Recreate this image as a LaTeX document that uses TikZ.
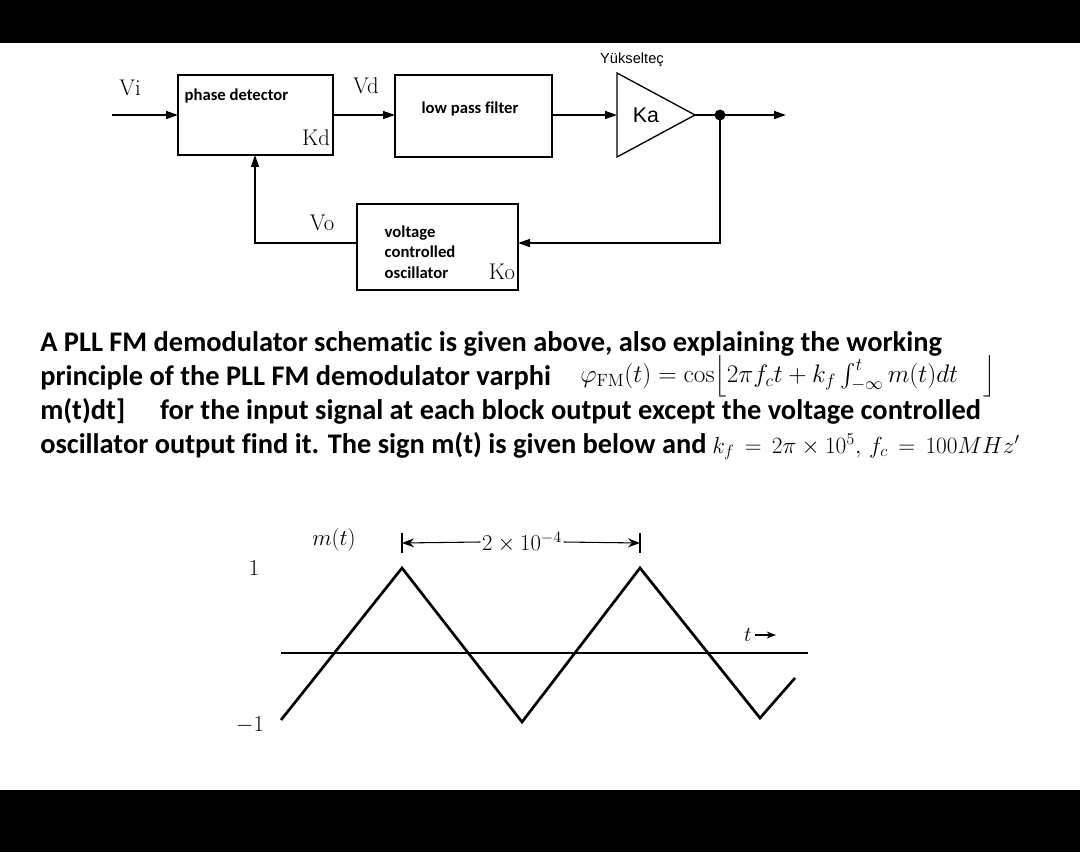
\documentclass[tikz,border=0pt]{standalone}
\usepackage{fix-cm}
\usepackage{fontspec}
\usepackage{amsmath}
\newfontfamily\calfnt[Ligatures=NoCommon]{Carlito}
\newfontfamily\arl{Liberation Sans}
\usetikzlibrary{arrows.meta}
\begin{document}
\begin{tikzpicture}[x=0.75pt,y=-0.75pt,
  blk/.style={draw,line width=1pt},
  arr/.style={line width=1pt,-{Triangle[length=9pt,width=6pt]}},
  ln/.style={line width=1pt},
  lbl/.style={font=\calfnt\bfseries\fontsize{12.5}{14.5}\selectfont},
  ser/.style={font=\fontsize{17}{19}\selectfont},
  para/.style={font=\calfnt\bfseries\fontsize{21.3}{25}\selectfont,anchor=west,inner sep=0}]
\useasboundingbox (0,0) rectangle (1080,852);
\fill[black] (0,0) rectangle (1080,43);
\fill[black] (0,790) rectangle (1080,852);
% blocks
\draw[blk] (178,75) rectangle (333,155);
\node[lbl,anchor=west] (pd) at (180,96) {phase detector};
\node[ser] (kd) at (316,138) {Kd};
\draw[blk] (395,75) rectangle (552,157);
\node[lbl] (lpf) at (470,109) {low pass filter};
\draw[blk] (617,73) -- (617,157) -- (695,115) -- cycle;
\node[font=\arl\fontsize{16}{18}\selectfont] (ka) at (646,115) {Ka};
\node[font=\arl\fontsize{11}{13}\selectfont] (yk) at (632,60) {Yükselteç};
\draw[blk] (357,204) rectangle (518,290);
\node[lbl,anchor=west,align=left] (vco) at (380,252) {voltage\\[1pt]controlled\\[1pt]oscillator};
\node[ser] (ko) at (502,272) {Ko};
\node[ser] (vi) at (130,88) {Vi};
\node[ser] (vd) at (366,86) {Vd};
\node[ser] (vo) at (322,223) {Vo};
% connectors
\coordinate (in) at (112,115);
\coordinate (out) at (786,115);
\coordinate (jn) at (720,115);
\draw[arr] (in) -- (178,115);
\draw[arr] (333,115) -- (395,115);
\draw[arr] (552,115) -- (617,115);
\draw[ln] (695,115) -- (jn);
\draw[arr] (jn) -- (out);
\fill (jn) circle (5.5);
\draw[arr] (jn) -- (720,243) -- (518,243);
\draw[arr] (357,243) -- (255,243) -- (255,155);
% paragraph
\node[para] (p1) at (40,344) {A PLL FM demodulator schematic is given above, also explaining the working};
\node[para] (p2) at (40,378) {principle of the PLL FM demodulator varphi};
\node[anchor=west,inner sep=0,font=\fontsize{19}{21}\selectfont] (eq) at (580,376) {$\varphi_{\mathrm{FM}}(t) = \cos\Bigl\lfloor 2\pi f_c t + k_f \int_{-\infty}^{t} m(t)dt\quad\Bigr\rfloor$};
\node[para] (p3) at (40,411) {m(t)dt]\quad\ for the input signal at each block output except the voltage controlled};
\node[para] (p4) at (40,445) {oscillator output find it. The sign m(t) is given below and};
\node[anchor=west,inner sep=0,font=\fontsize{17.5}{19}\selectfont] (eq2) at (712,447) {$k_f\,=\,2\pi\times10^5,\,f_c\,=\,100MHz'$};
% graph
\coordinate (a0) at (281,653);
\coordinate (a1) at (808,653);
\draw[line width=2pt] (a0) -- (a1);
\draw[line width=2pt] (281,720) -- (402,568) -- (522,722) -- (640,568) -- (760,718) -- (795,678);
\node[font=\fontsize{17}{19}\selectfont] (one) at (254,568) {1};
\node[font=\fontsize{17}{19}\selectfont] (mone) at (250,725) {$-1$};
\node[font=\fontsize{17}{19}\selectfont] (mt) at (334,540) {$m(t)$};
\node[font=\fontsize{17}{19}\selectfont,fill=white,inner sep=1pt] (dim) at (522,542) {$2\times10^{-4}$};
\draw[line width=0.8pt,-{Stealth[length=9pt]}] (dim.west) -- (402,543);
\draw[line width=0.8pt,-{Stealth[length=9pt]}] (dim.east) -- (640,543);
\draw[line width=0.8pt] (402,533) -- (402,553);
\draw[line width=0.8pt] (640,533) -- (640,553);
\node[font=\fontsize{16}{18}\selectfont] (t) at (748,635) {$t$};
\draw[line width=1pt,-{Stealth[length=7pt]}] (755,635) -- (776,635);
\end{tikzpicture}
\end{document}
